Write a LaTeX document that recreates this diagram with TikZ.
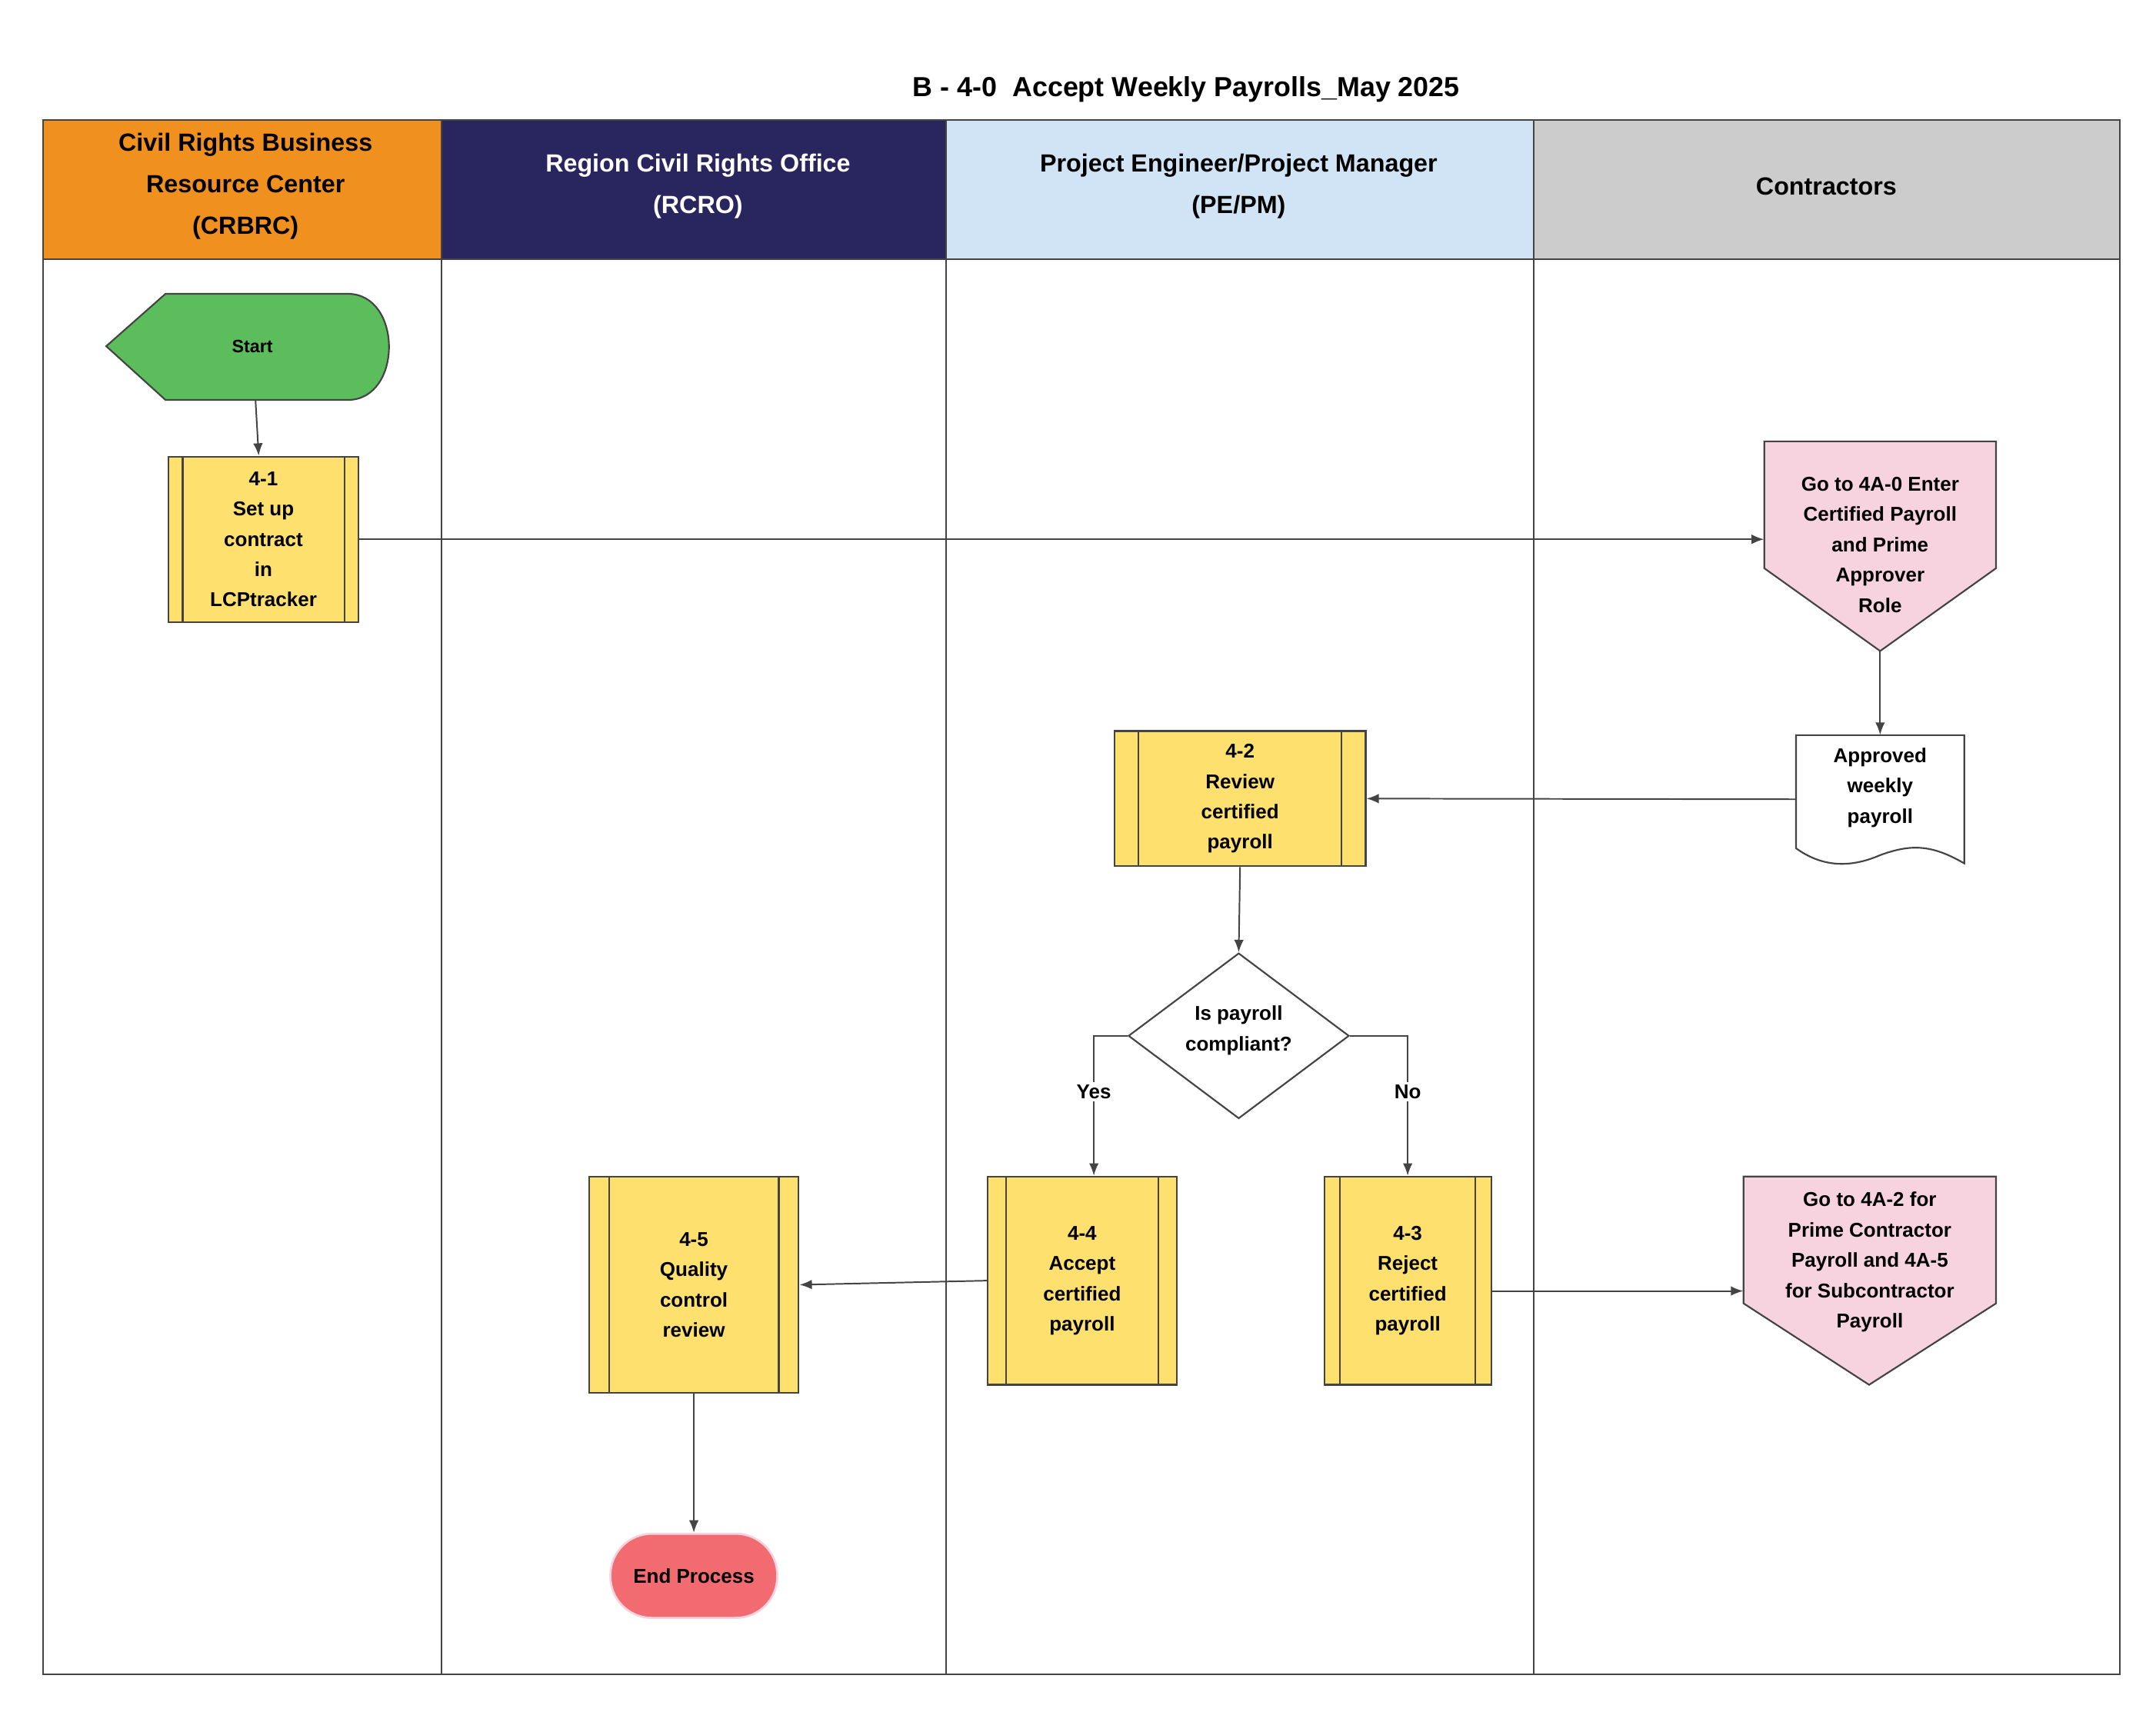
\documentclass[tikz,border=0pt]{standalone}
\usepackage{fontspec}
\setmainfont{Liberation Sans}
\usetikzlibrary{arrows.meta,shapes.geometric}
\definecolor{orh}{HTML}{F0901F}
\definecolor{navy}{HTML}{29255E}
\definecolor{lblue}{HTML}{D0E4F5}
\definecolor{gry}{HTML}{CCCCCC}
\definecolor{yel}{HTML}{FDE06E}
\definecolor{pnk}{HTML}{F6D3DE}
\definecolor{grn}{HTML}{5CBD5C}
\definecolor{endc}{HTML}{F26B70}
\definecolor{ln}{HTML}{444444}
\begin{document}
\begin{tikzpicture}[x=1pt,y=-1pt,
  ln/.style={draw=ln,line width=1.2pt},
  arr/.style={draw=ln,line width=1.1pt,-{Latex[length=9pt,width=7pt]}},
  txt/.style={font=\fontsize{14.5}{22}\selectfont\bfseries,align=center,inner sep=0pt},
  hd/.style={font=\fontsize{18}{30}\selectfont\bfseries,align=center,inner sep=0pt},
  proc/.style={ln,fill=yel,inner sep=0pt,font=\fontsize{14.5}{22}\selectfont\bfseries,align=center}]
\useasboundingbox (0,0) rectangle (1563,1241);
% headers
\fill[orh] (31,87) rectangle (320,188);
\fill[navy] (320,87) rectangle (686,188);
\fill[lblue] (686,87) rectangle (1112,188);
\fill[gry] (1112,87) rectangle (1537,188);
\draw[ln] (31,87) rectangle (1537,1214);
\draw[ln] (31,188) -- (1537,188);
\foreach \x in {320,686,1112} \draw[ln] (\x,87) -- (\x,1214);
\node[hd] (t) at (860,65) {\fontsize{20}{24}\selectfont B - 4-0\ \ Accept Weekly Payrolls\_May 2025};
\node[hd] (h1) at (178,135) {Civil Rights Business\\Resource Center\\(CRBRC)};
\node[hd,text=white] (h2) at (506,135) {Region Civil Rights Office\\(RCRO)};
\node[hd] (h3) at (898,135) {Project Engineer/Project Manager\\(PE/PM)};
\node[hd] (h4) at (1324,135) {Contractors};
% start
\draw[ln,fill=grn] (77,251) -- (120,213) -- (252,213) .. controls (292,213) and (292,290) .. (252,290) -- (120,290) -- cycle;
\node[txt,minimum width=213pt,minimum height=77pt] (start) at (183,251) {\fontsize{13}{16}\selectfont Start};
% processes
\newcommand\mkproc[7]{% name, cx, cy, w, h, inset, text
  \node[proc,minimum width=#4 pt,minimum height=#5 pt] (#1) at (#2,#3) {#7};
  \draw[ln] ([xshift=#6 pt]#1.north west) -- ([xshift=#6 pt]#1.south west);
  \draw[ln] ([xshift=-#6 pt]#1.north east) -- ([xshift=-#6 pt]#1.south east);}
\mkproc{p41}{191}{391}{138}{120}{11}{4-1\\Set up\\contract\\in\\LCPtracker}
\mkproc{p42}{899}{579}{182}{98}{18}{4-2\\Review\\certified\\payroll}
\mkproc{p44}{784.5}{928.5}{137}{151}{14}{4-4\\Accept\\certified\\payroll}
\mkproc{p43}{1020.5}{928.5}{121}{151}{12}{4-3\\Reject\\certified\\payroll}
\mkproc{p45}{503}{931.5}{152}{157}{15}{4-5\\Quality\\control\\review}
% offpage
\draw[ln,fill=pnk] (1279,320) -- (1447,320) -- (1447,412) -- (1363,472) -- (1279,412) -- cycle;
\node[txt,minimum width=168pt,minimum height=152pt] (g0) at (1363,396) {};
\node[txt] (g0t) at (1363,395) {Go to 4A-0 Enter\\Certified Payroll\\and Prime\\Approver\\Role};
\draw[ln,fill=pnk] (1264,853) -- (1447,853) -- (1447,945) -- (1355,1004) -- (1264,945) -- cycle;
\node[txt,minimum width=183pt,minimum height=151pt] (g2) at (1355.5,928.5) {};
\node[txt] (g2t) at (1355.5,915) {Go to 4A-2 for\\Prime Contractor\\Payroll and 4A-5\\for Subcontractor\\Payroll};
% document
\draw[ln,fill=white] (1302,533) -- (1424,533) -- (1424,626) .. controls (1400,612) and (1385,612) .. (1363,620) .. controls (1340,630) and (1320,628) .. (1302,615) -- cycle;
\node[txt,minimum width=122pt,minimum height=93pt] (doc) at (1363,579.5) {};
\node[txt] (doct) at (1363,571) {Approved\\weekly\\payroll};
% decision
\node[ln,diamond,aspect=1.33,fill=white,minimum width=160pt,minimum height=120pt,inner sep=0pt] (dec) at (898,751) {};
\node[txt] (dect) at (898,747) {Is payroll\\compliant?};
% end
\node[draw=pnk,line width=1.5pt,fill=endc,rounded corners=30pt,minimum width=121pt,minimum height=61pt,txt] (end) at (503,1142.5) {End Process};
% connectors
\draw[arr] (start) -- (p41);
\draw[arr] (p41.east) -- (p41.east -| g0.west);
\draw[arr] (g0.south) -- (doc.north);
\draw[arr] (doc.west) -- (p42.east);
\draw[arr] (p42.south) -- (dec.north);
\draw[arr] (dec.west) -| node[txt,pos=0.7,fill=white,inner sep=2pt] (yes) {Yes} (p44.north -| 793,0);
\draw[arr] (dec.east) -| node[txt,pos=0.7,fill=white,inner sep=2pt] (no) {No} (p43.north);
\draw[arr] (p44.west) -- (p45.east);
\draw[arr] (p43.east |- 0,936) -- (g2.west |- 0,936);
\draw[arr] (p45.south) -- (end.north);
\end{tikzpicture}
\end{document}
